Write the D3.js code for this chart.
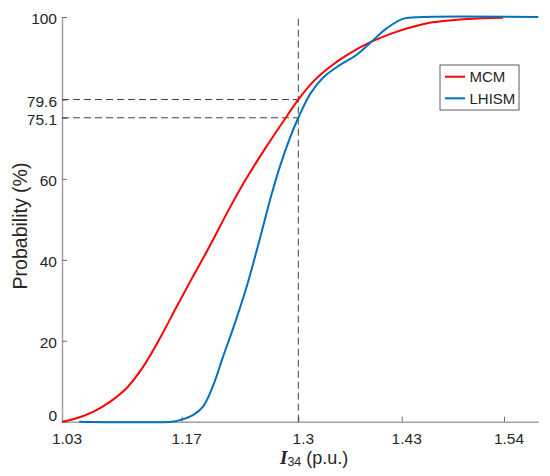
<!DOCTYPE html>
<html>
<head>
    <meta charset="utf-8">
    <title>CDF of I34</title>
    <script src="https://d3js.org/d3.v7.min.js"></script>
    <style>
      body { margin: 0; background: #fff; }
      text { font-family: "Liberation Sans", Arial, sans-serif; fill: #262626; }
    </style>
</head>
<body>
<script type="text/javascript">
    // tick labels
    var xTicks = [1.03, 1.17, 1.3, 1.43, 1.54];
    var yTicks = [0, 20, 40, 60, 75.1, 79.6, 100];

    // reference point read at I34 = 1.3
    var refX = 1.3;
    var refY = [79.6, 75.1];

    var seriesNames = ['MCM', 'LHISM'];

    // MCM curve (I34 in p.u., probability in %)
    var mcmX = [1.030, 1.043, 1.067, 1.086, 1.106, 1.125, 1.145, 1.164, 1.183, 1.202,
                1.220, 1.241, 1.261, 1.286, 1.300, 1.319, 1.340, 1.361, 1.392, 1.424,
                1.442, 1.460, 1.478, 1.500, 1.539];
    var mcmY = [0, 0.6, 2.5, 4.9, 8.4, 13.6, 20.8, 28.4, 36.05, 43.7,
                51.35, 59.7, 66.8, 75.1, 79.6, 84.1, 87.7, 90.6, 93.9, 96.4,
                97.6, 98.6, 99.1, 99.5, 99.8];

    // LHISM curve
    var lhismX = [1.050, 1.158, 1.168, 1.183, 1.194, 1.205, 1.216, 1.228, 1.243, 1.257,
                  1.270, 1.280, 1.291, 1.300, 1.315, 1.331, 1.352, 1.373, 1.392, 1.411,
                  1.432, 1.453, 1.577];
    var lhismY = [0, 0, 0.4, 1.7, 3.8, 8.9, 16.0, 23.5, 33.8, 45.1,
                  56.0, 63.4, 70.3, 75.1, 81.0, 85.0, 88.1, 90.6, 93.9, 97.2,
                  99.6, 100, 100];

    var colors = ['#ff0000', '#0072bd'];

    var width = 550, height = 476;

    var svg = d3.select('body')
      .append('svg')
        .attr('width', width)
        .attr('height', height);

    // the x ticks are not evenly spaced in the original figure, so the scale is piecewise
    var x = d3.scaleLinear()
      .domain([1.03, 1.17, 1.3, 1.43, 1.54, 1.577])
      .range([62, 181.7, 298.3, 401.7, 504, 538.3]);

    var y = d3.scaleLinear()
      .domain([0, 100])
      .range([421.7, 17]);

    // axes
    var xAxis = d3.axisBottom(x)
      .tickValues(xTicks)
      .tickFormat(function(d) { return d; })
      .tickSizeInner(-5)
      .tickSizeOuter(0)
      .tickPadding(11.5);

    var yAxis = d3.axisLeft(y)
      .tickValues(yTicks)
      .tickFormat(function(d) { return d; })
      .tickSizeInner(-5)
      .tickSizeOuter(0)
      .tickPadding(5);

    var gx = svg.append('g')
      .attr('transform', 'translate(0,' + y(0) + ')')
      .call(xAxis);
    gx.selectAll('text')
      .attr('dx', 4.5)
      .style('font-size', '15.5px');

    var gy = svg.append('g')
      .attr('transform', 'translate(' + x(1.03) + ',0)')
      .call(yAxis);
    gy.selectAll('text')
      .style('font-size', '15.5px')
      .attr('dy', function(d) { return d === 0 ? '-0.1em' : '0.42em'; });

    svg.selectAll('.domain')
      .attr('stroke', '#a0a0a0')
      .attr('stroke-width', 1.5);
    svg.selectAll('.tick line')
      .attr('stroke', '#6e6e6e');

    // dashed guide lines
    var guides = svg.append('g')
      .attr('stroke', '#404040')
      .attr('stroke-width', 1)
      .attr('stroke-dasharray', '7,4')
      .attr('fill', 'none');

    guides.append('line')
      .attr('x1', x(refX)).attr('x2', x(refX))
      .attr('y1', y(0)).attr('y2', y(100));

    guides.selectAll('line.h')
      .data(refY)
      .enter()
        .append('line')
          .attr('class', 'h')
          .attr('x1', x(1.03))
          .attr('x2', x(refX))
          .attr('y1', function(d) { return y(d); })
          .attr('y2', function(d) { return y(d); });

    // curves
    var series = [
      mcmX.map(function(d, i) { return [d, mcmY[i]]; }),
      lhismX.map(function(d, i) { return [d, lhismY[i]]; })
    ];

    var line = d3.line()
      .x(function(d) { return x(d[0]); })
      .y(function(d) { return y(d[1]); })
      .curve(d3.curveCatmullRom.alpha(0.5));

    svg.selectAll('path.curve')
      .data(series)
      .enter()
        .append('path')
          .attr('class', 'curve')
          .attr('d', line)
          .attr('fill', 'none')
          .attr('stroke', function(d, i) { return colors[i]; })
          .attr('stroke-width', 2);

    // legend
    var legend = svg.append('g')
      .attr('transform', 'translate(440,65)');

    legend.append('rect')
      .attr('width', 79)
      .attr('height', 45)
      .attr('fill', '#fff')
      .attr('stroke', '#333')
      .attr('stroke-width', 0.8);

    var items = legend.selectAll('g.item')
      .data(seriesNames)
      .enter()
        .append('g')
          .attr('class', 'item')
          .attr('transform', function(d, i) { return 'translate(0,' + (11.7 + i * 21.6) + ')'; });

    items.append('line')
      .attr('x1', 5).attr('x2', 25)
      .attr('stroke', function(d, i) { return colors[i]; })
      .attr('stroke-width', 2);

    items.append('text')
      .attr('x', 29.5)
      .attr('dy', '0.36em')
      .style('font-size', '15px')
      .text(function(d) { return d; });

    // axis titles
    svg.append('text')
      .attr('transform', 'translate(27,226) rotate(-90)')
      .attr('text-anchor', 'middle')
      .style('font-size', '19.5px')
      .text('Probability (%)');

    var xl = svg.append('text')
      .attr('x', 280)
      .attr('y', 464)
      .style('font-size', '18px');
    xl.append('tspan')
      .style('font-family', '"Liberation Serif", "Times New Roman", serif')
      .style('font-weight', 'bold')
      .style('font-style', 'italic')
      .style('font-size', '19px')
      .text('I');
    xl.append('tspan')
      .attr('dy', 2)
      .style('font-size', '12.5px')
      .text('34');
    xl.append('tspan')
      .attr('dy', -2)
      .text(' (p.u.)');
</script>
</body>
</html>
